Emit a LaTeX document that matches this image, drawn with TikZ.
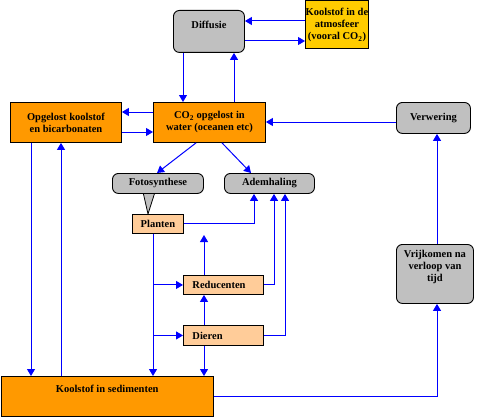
\documentclass[tikz,border=0pt]{standalone}
\usepackage{fontspec}
\setmainfont{Liberation Serif}
\usetikzlibrary{arrows.meta}
\definecolor{cblue}{HTML}{0000FF}
\definecolor{cgray}{HTML}{C0C0C0}
\definecolor{corange}{HTML}{FF9900}
\definecolor{cyellow}{HTML}{FFCC00}
\definecolor{cpeach}{HTML}{FFCC99}
\begin{document}
\begin{tikzpicture}[x=1pt,y=-1pt,
 base/.style={draw=black, line width=0.9pt, font=\fontsize{10.5}{12}\selectfont\bfseries, align=center, inner sep=0pt, anchor=north west},
 gbox/.style={base, fill=cgray, rounded corners=6pt},
 obox/.style={base, fill=corange},
 ybox/.style={base, fill=cyellow},
 pbox/.style={base, fill=cpeach},
 conn/.style={draw=cblue, line width=1pt, -{Triangle[width=8pt,length=7pt]}}
]
\useasboundingbox (0,0) rectangle (478,417);
% callout of Fotosynthese
\draw[fill=cgray, line width=0.8pt] (143,192) -- (148,214) -- (155,192);
% nodes
\node[gbox, minimum width=71pt, minimum height=42pt, text height=18.5pt, text depth=23.5pt] (diff) at (173,10) {Diffusie};
\node[ybox, minimum width=63pt, minimum height=48pt] (atm) at (305,0.5) {Koolstof in de\\atmosfeer\\(vooral CO\textsubscript{2})};
\node[obox, minimum width=111pt, minimum height=40pt] (opg) at (10,102) {Opgelost koolstof\\en bicarbonaten};
\node[obox, minimum width=112pt, minimum height=40pt] (co2) at (153,102) {CO\textsubscript{2} opgelost in\\water (oceanen etc)};
\node[gbox, minimum width=74pt, minimum height=31pt] (verw) at (396,102) {Verwering};
\node[gbox, minimum width=91pt, minimum height=20pt] (foto) at (112,173) {Fotosynthese};
\node[gbox, minimum width=90pt, minimum height=20pt] (adem) at (224,173) {Ademhaling};
\node[pbox, minimum width=51pt, minimum height=19pt] (plant) at (132,214) {Planten};
\node[pbox, minimum width=80pt, minimum height=19pt, text width=62pt, inner xsep=9pt, align=left] (red) at (183,275) {Reducenten};
\node[pbox, minimum width=80pt, minimum height=20pt, text width=62pt, inner xsep=9pt, align=left] (dier) at (183,325) {Dieren};
\node[gbox, minimum width=77pt, minimum height=59pt] (vrij) at (396,244) {Vrijkomen na\\verloop van\\tijd\\[4pt]};
\node[obox, minimum width=212.5pt, minimum height=40pt, text height=16pt, text depth=24pt] (sed) at (0.5,376) {Koolstof in sedimenten};
% free / branch coordinates
\coordinate (trunk) at (153,0);
\coordinate (rfree) at (204,235);
% connectors
\draw[conn] (atm.west |- 0,21) -- (diff.east |- 0,21);
\draw[conn] (diff.east |- 0,41) -- (atm.west |- 0,41);
\draw[conn] (diff.south -| 183,0) -- (co2.north -| 183,0);
\draw[conn] (co2.north -| 234,0) -- (diff.south -| 234,0);
\draw[conn] (co2.west |- 0,112) -- (opg.east |- 0,112);
\draw[conn] (opg.east |- 0,132) -- (co2.west |- 0,132);
\draw[conn] (verw.west |- 0,122) -- (co2.east |- 0,122);
\draw[conn] (co2.south -| 196,0) -- (foto.north -| 157,0);
\draw[conn] (co2.south -| 222,0) -- (adem.north -| 251,0);
\draw[conn] (plant.east) -| (adem.south -| 254,0);
\draw[conn] (red.east) -| (adem.south -| 274,0);
\draw[conn] (dier.east) -| (adem.south -| 285,0);
\draw[conn] (plant.south -| trunk) -- (sed.north -| trunk);
\draw[conn] (red.west -| trunk) -- (red.west);
\draw[conn] (dier.west -| trunk) -- (dier.west);
\draw[conn] (dier.north -| 204,0) -- (red.south -| 204,0);
\draw[conn] (red.north -| 204,0) -- (rfree);
\draw[conn] (dier.south -| 204,0) -- (sed.north -| 204,0);
\draw[conn] (opg.south -| 31,0) -- (sed.north -| 31,0);
\draw[conn] (sed.north -| 61,0) -- (opg.south -| 61,0);
\draw[conn] (sed.east |- 0,396) -| (vrij.south -| 437,0);
\draw[conn] (vrij.north -| 437,0) -- (verw.south -| 437,0);
\end{tikzpicture}
\end{document}
